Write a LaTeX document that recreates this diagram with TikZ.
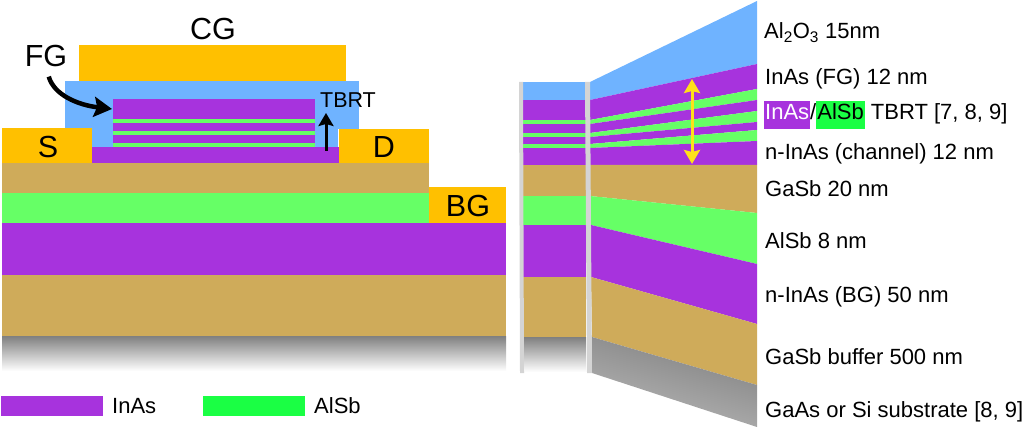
\documentclass[tikz,border=0pt]{standalone}
\usepackage{fontspec}
\setmainfont{Liberation Sans}
\usetikzlibrary{arrows.meta}

\definecolor{inas}{HTML}{A733DD}
\definecolor{alsb}{HTML}{66FF66}
\definecolor{alsbkey}{HTML}{1AFF44}
\definecolor{gasb}{HTML}{CFAB5A}
\definecolor{alox}{HTML}{6FB3FF}
\definecolor{metal}{HTML}{FFC000}
\definecolor{wallgray}{HTML}{D4D4D4}
\definecolor{arrowyellow}{HTML}{FFE01A}

\tikzset{
  lbl/.style={anchor=base west, inner sep=0pt, font=\fontsize{22}{26}\selectfont},
  keylbl/.style={right, inner sep=0pt, font=\fontsize{22}{26}\selectfont},
  gatelbl/.style={inner sep=0pt, font=\fontsize{30.5}{36}\selectfont},
}
\setlength{\fboxsep}{1pt}

\begin{document}
\begin{tikzpicture}[x=1pt,y=-1pt,>=stealth]
  \useasboundingbox (0,0) rectangle (1025,430);

  % device cross section
  \fill[metal] (79,45) rectangle (346,81);
  \fill[alox] (65,81) rectangle (359,129);
  \fill[alox] (92,129) rectangle (338,147);
  \fill[inas] (92,147) rectangle (339,163);
  \fill[inas] (113,99) rectangle (315,119);
  \fill[alsb] (113,119) rectangle (315,123);
  \fill[inas] (113,123) rectangle (315,131);
  \fill[alsb] (113,131) rectangle (315,135);
  \fill[inas] (113,135) rectangle (315,143);
  \fill[alsb] (113,143) rectangle (315,147);
  \fill[metal] (2,128) rectangle (92,163);
  \fill[metal] (339,129) rectangle (429,163);
  \fill[gasb] (2,163) rectangle (429,193);
  \fill[alsb] (2,193) rectangle (429,223);
  \fill[metal] (429,187) rectangle (506,223);
  \fill[inas] (2,223) rectangle (506,275);
  \fill[gasb] (2,275) rectangle (506,336);
  \shade[top color=black!50, bottom color=white] (2,336) rectangle (506,371);

  \node[gatelbl] (CG) at (213,29) {CG};
  \node[gatelbl] (FG) at (46,56) {FG};
  \node[gatelbl] (S) at (48,147) {S};
  \node[gatelbl] (D) at (384,147) {D};
  \node[gatelbl] (BG) at (468,206) {BG};
  \node[inner sep=0pt, font=\fontsize{21.5}{25}\selectfont] (TBRT) at (348,100) {TBRT};

  \coordinate (FGtip) at (112,109);
  \coordinate (TBRTtail) at (326,151);
  \coordinate (TBRTtip) at (326,113);
  \draw[-{Stealth[length=18pt,width=20pt,inset=3pt]}, line width=4.5pt, shorten <=10pt] (FG.south) .. controls (54,95) and (78,105) .. (FGtip);
  \draw[-{Stealth[length=13pt,width=15pt,inset=2pt]}, line width=3pt] (TBRTtail) -- (TBRTtip);

  % key
  \fill[inas] (1,396) rectangle (103,416);
  \fill[alsbkey] (203,396) rectangle (305,416);
  \node[keylbl] (keyinas) at (112,406) {InAs};
  \node[keylbl] (keyalsb) at (314,406) {AlSb};

  % zoomed stack, straight part
  \fill[alox] (523,82) rectangle (586,100);
  \fill[inas] (523,100) rectangle (586,120);
  \fill[alsb] (523,120) rectangle (586,124);
  \fill[inas] (523,124) rectangle (586,133);
  \fill[alsb] (523,133) rectangle (586,137);
  \fill[inas] (523,137) rectangle (586,144);
  \fill[alsb] (523,144) rectangle (586,148);
  \fill[inas] (523,148) rectangle (586,165);
  \fill[gasb] (523,165) rectangle (586,196);
  \fill[alsb] (523,196) rectangle (586,225);
  \fill[inas] (523,225) rectangle (586,277);
  \fill[gasb] (523,277) rectangle (586,337);
  \shade[top color=black!50, bottom color=white] (523,337) rectangle (586,372);

  % zoomed stack, fanned part
  \fill[alox] (590,82) -- (757,1) -- (757,64) -- (590,100) -- cycle;
  \fill[inas] (590,100) -- (757,64) -- (757,89) -- (590,120) -- cycle;
  \fill[alsb] (590,120) -- (757,89) -- (757,100) -- (590,124) -- cycle;
  \fill[inas] (590,124) -- (757,100) -- (757,111) -- (590,133) -- cycle;
  \fill[alsb] (590,133) -- (757,111) -- (757,122) -- (590,137) -- cycle;
  \fill[inas] (590,137) -- (757,122) -- (757,130) -- (590,144) -- cycle;
  \fill[alsb] (590,144) -- (757,130) -- (757,141) -- (590,148) -- cycle;
  \fill[inas] (590,148) -- (757,141) -- (757,165) -- (590,165) -- cycle;
  \fill[gasb] (590,165) -- (757,165) -- (757,213) -- (590,196) -- cycle;
  \fill[alsb] (590,196) -- (757,213) -- (757,264) -- (591,225) -- cycle;
  \fill[inas] (591,225) -- (757,264) -- (757,324) -- (591,277) -- cycle;
  \fill[gasb] (591,277) -- (757,324) -- (757,385) -- (592,337) -- cycle;
  \shade[top color=black!50, bottom color=black!28, shading angle=-16] (592,337) -- (757,385) -- (757,427) -- (592,373) -- cycle;

  \fill[wallgray] (519,82) -- (523,82) -- (524,373) -- (520,373) -- cycle;
  \fill[wallgray] (585,82) -- (590,82) -- (592,373) -- (587,373) -- cycle;

  \coordinate (TBRTtop) at (692,79);
  \coordinate (TBRTbot) at (692,164);
  \draw[{Stealth[length=14pt,width=16pt,inset=2pt]}-{Stealth[length=14pt,width=16pt,inset=2pt]}, line width=3pt, arrowyellow] (TBRTtop) -- (TBRTbot);

  % layer names
  \node[lbl] (lblalox) at (764,39) {Al$_{\mathrm{2}}$O$_{\mathrm{3}}$ 15nm};
  \node[lbl] (lblfg) at (765,85) {InAs (FG) 12 nm};
  \node[lbl] (lbltbrt) at (764,120) {\colorbox{inas}{\strut\textcolor{white}{InAs}}/\colorbox{alsbkey}{\strut AlSb} TBRT [7, 8, 9]};
  \node[lbl] (lblchan) at (765,160) {n-InAs (channel) 12 nm};
  \node[lbl] (lblgasb) at (765,197) {GaSb 20 nm};
  \node[lbl] (lblalsb) at (765,249) {AlSb 8 nm};
  \node[lbl] (lblbg) at (765,302) {n-InAs (BG) 50 nm};
  \node[lbl] (lblbuf) at (765,364) {GaSb buffer 500 nm};
  \node[lbl] (lblsub) at (765,417) {GaAs or Si substrate [8, 9]};
\end{tikzpicture}
\end{document}
